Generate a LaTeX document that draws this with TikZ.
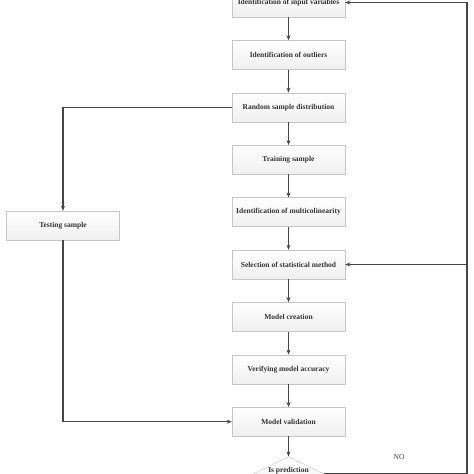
\documentclass[tikz,border=0pt]{standalone}
\usepackage{fontspec}
\setmainfont{Liberation Serif}
\usetikzlibrary{shapes.geometric,arrows.meta,positioning}
\tikzset{
  stepbox/.style={rectangle, draw=gray!45, top color=white, bottom color=gray!12,
                  minimum width=113pt, minimum height=29pt, align=center,
                  font=\fontsize{7.5}{8.5}\selectfont\bfseries, text=black!80},
  query/.style={diamond, draw=gray!45, top color=white, bottom color=gray!12,
                aspect=2, minimum width=70pt, minimum height=34pt, inner sep=0pt,
                align=center, font=\fontsize{7.5}{8.5}\selectfont\bfseries, text=black!80},
  flow/.style={-{Stealth[length=5pt,width=4pt]}, draw=gray!55!black, line width=1.1pt},
  link/.style={draw=gray!55!black, line width=1.1pt}
}
\begin{document}
\begin{tikzpicture}[x=1pt, y=1pt, node distance=23pt]
  \useasboundingbox (0,0) rectangle (474,-474);
  \node[stepbox] (inputs) at (288.5,-2.5) {Identification of input variables};
  \node[stepbox, below=of inputs] (outliers) {Identification of outliers};
  \node[stepbox, below=of outliers] (distrib) {Random sample distribution};
  \node[stepbox, below=of distrib] (training) {Training sample};
  \node[stepbox, below=of training] (multicol) {Identification of multicolinearity};
  \node[stepbox, below=of multicol] (method) {Selection of statistical method};
  \node[stepbox, below=of method] (creation) {Model creation};
  \node[stepbox, below=of creation] (accuracy) {Verifying model accuracy};
  \node[stepbox, below=of accuracy] (validation) {Model validation};
  \node[query, below=20pt of validation] (valid) {Is prediction\\model valid?};
  \node[stepbox] (testing) at (63,-225.5) {Testing sample};
  \node[font=\fontsize{7.5}{8.5}\selectfont, text=black!75] (no) at (399,-457) {NO};
  \coordinate (rtop) at (467,-2.5);

  \draw[flow] (inputs)--(outliers); \draw[flow] (outliers)--(distrib);
  \draw[flow] (distrib)--(training); \draw[flow] (training)--(multicol);
  \draw[flow] (multicol)--(method); \draw[flow] (method)--(creation);
  \draw[flow] (creation)--(accuracy); \draw[flow] (accuracy)--(validation);
  \draw[flow] (validation)--(valid);
  \draw[flow] (distrib.west) -| (testing.north);
  \draw[flow] (testing.south) |- (validation.west);
  \draw[flow] (valid.east) -| (rtop) -- (inputs.east);
  \draw[flow] (rtop |- method.east) -- (method.east);
\end{tikzpicture}
\end{document}
